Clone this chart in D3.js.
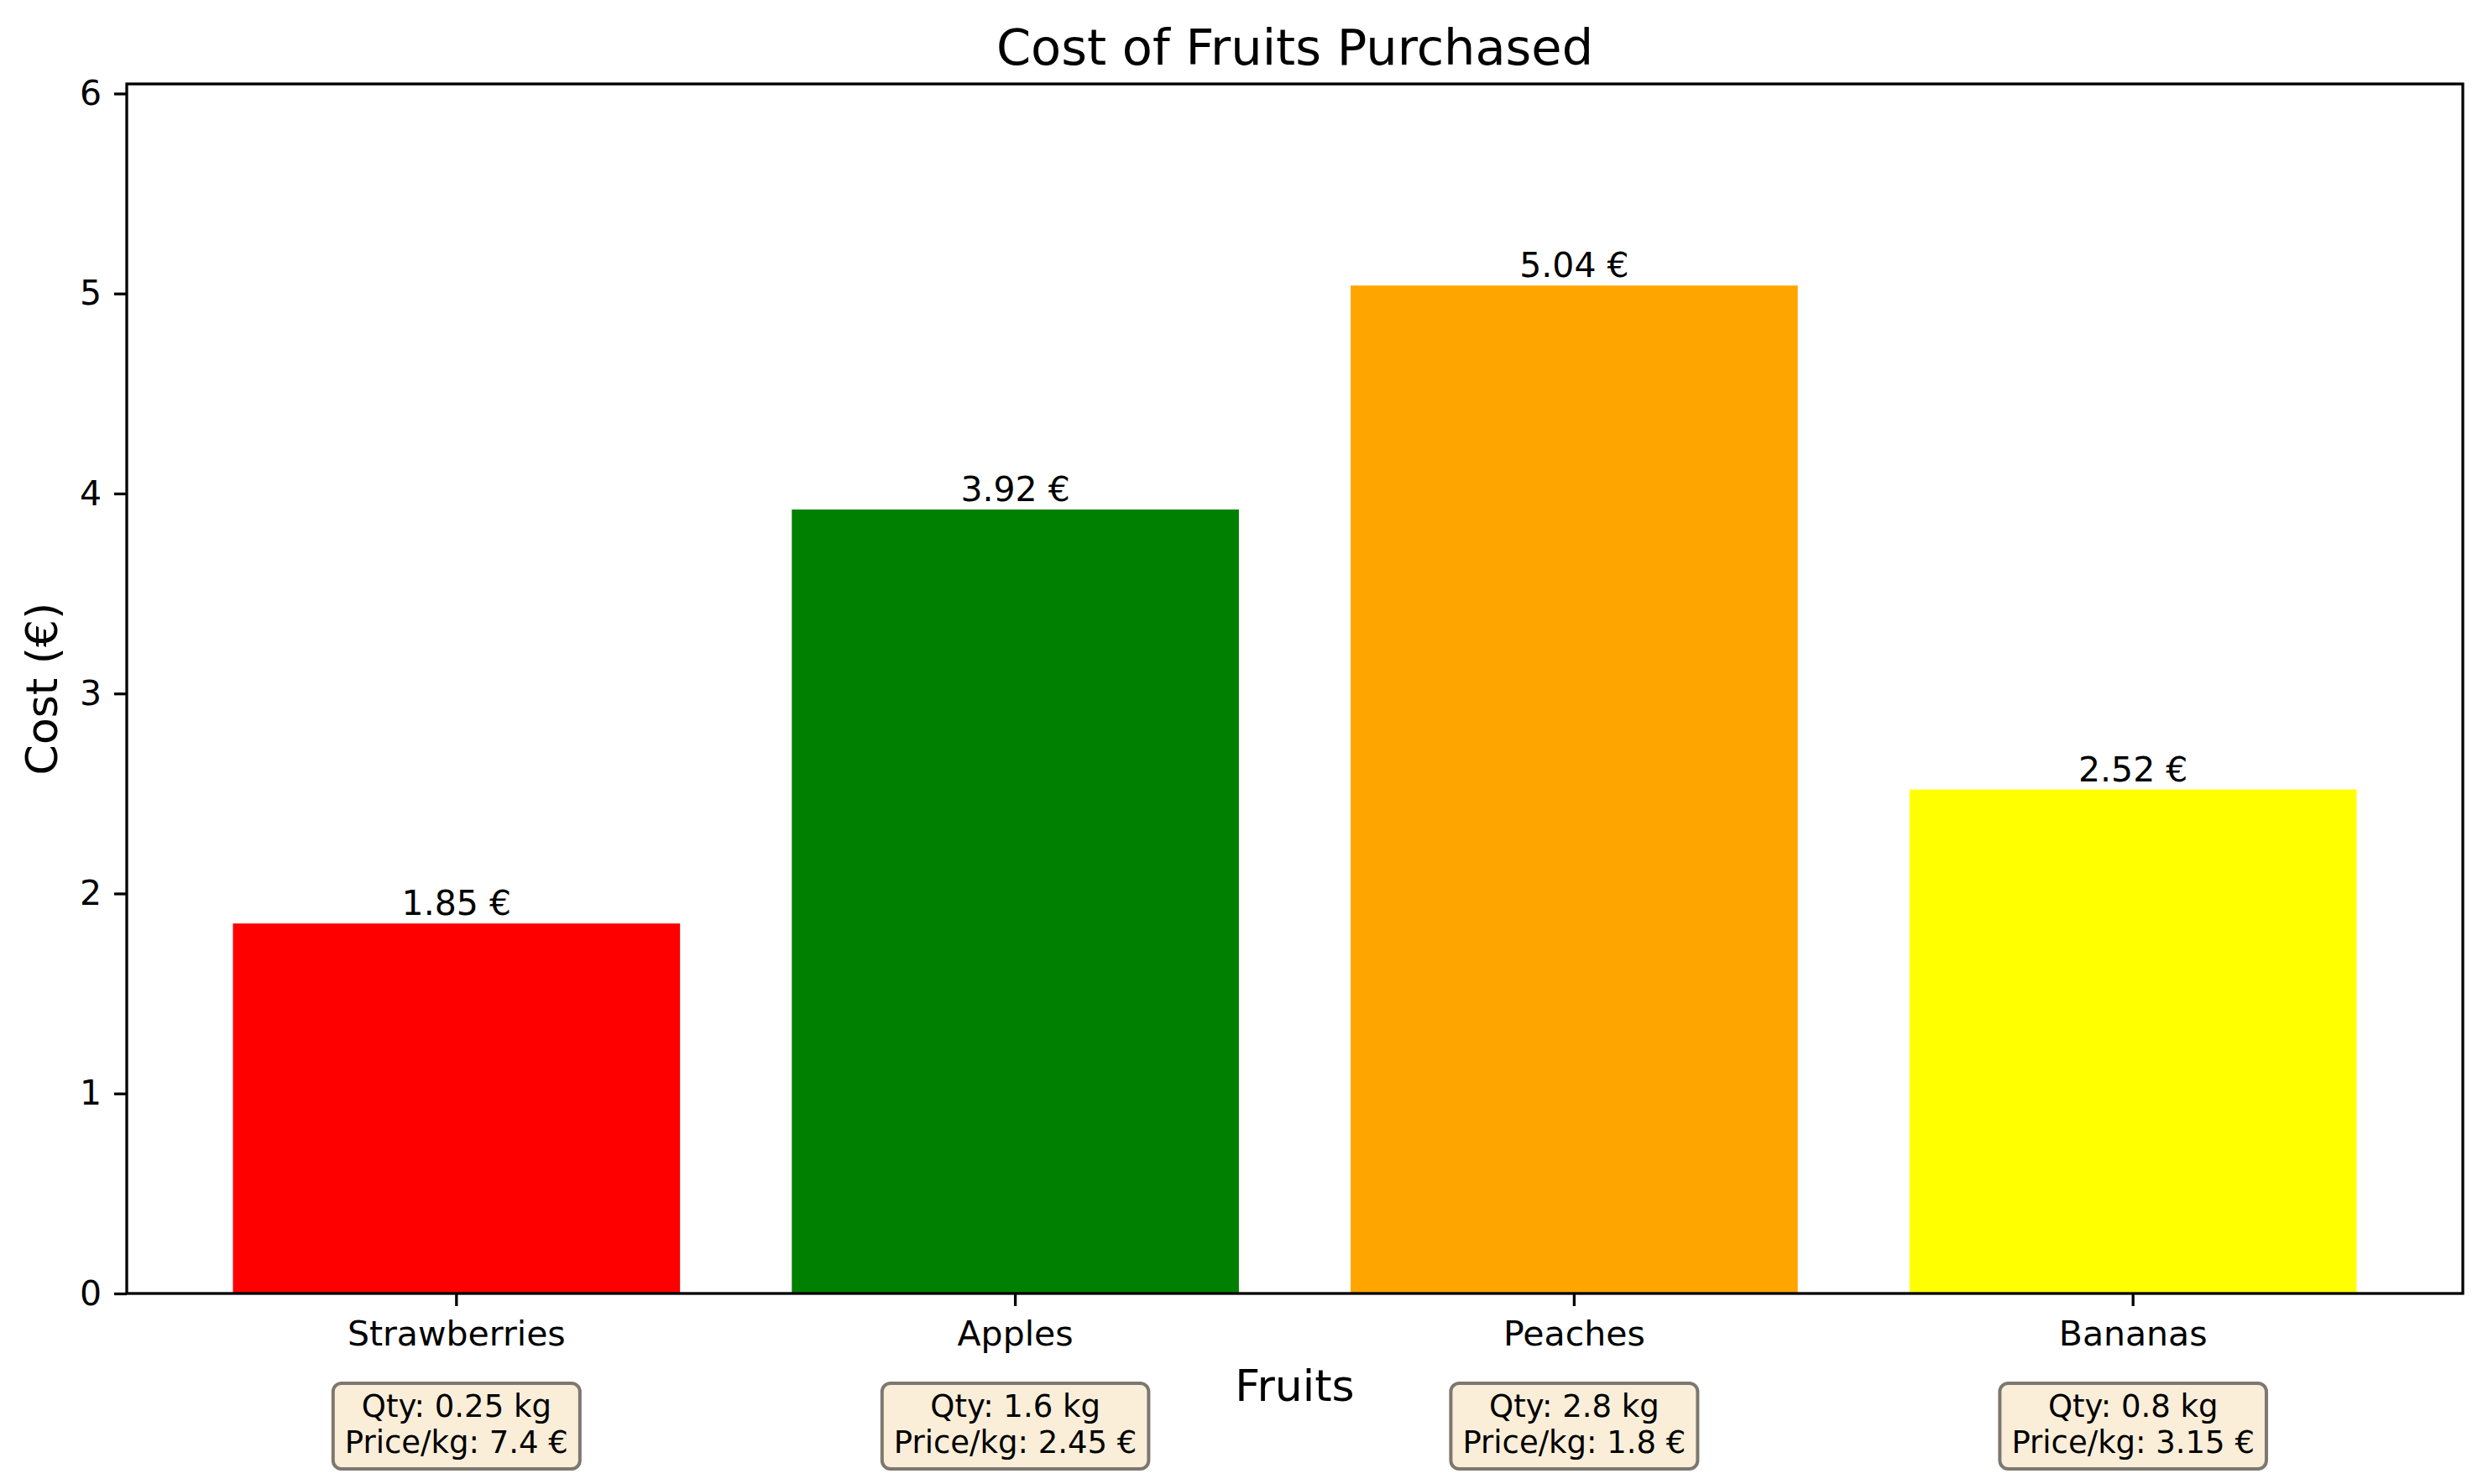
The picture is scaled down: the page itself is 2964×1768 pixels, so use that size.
<!DOCTYPE html>
<html lang="en">
<head>
    <meta charset="UTF-8">
    <title>Cost of Fruits Purchased</title>
    <style>
        body {
            margin: 0;
            padding: 0;
            background: #fff;
        }
        svg {
            font-family: "DejaVu Sans", sans-serif;
        }
        .tick text {
            fill: #000;
        }
    </style>
</head>
<body>
    <div id="chart"></div>

    <script src="https://d3js.org/d3.v7.min.js"></script>
    <script>
        // Data
        const fruits = ["Strawberries", "Apples", "Peaches", "Bananas"];
        const costs = [1.85, 3.92, 5.04, 2.52];
        const quantities = [0.25, 1.6, 2.8, 0.8];
        const pricePerKg = [7.4, 2.45, 1.8, 3.15];
        const barColors = ["red", "green", "orange", "yellow"];
        const yTicks = [0, 1, 2, 3, 4, 5, 6];

        const width = 2964, height = 1768;
        const margin = { top: 100, right: 30, bottom: 227, left: 151 };
        const innerW = width - margin.left - margin.right;
        const innerH = height - margin.top - margin.bottom;

        const svg = d3.select("#chart").append("svg")
            .attr("width", width)
            .attr("height", height);

        const g = svg.append("g")
            .attr("transform", "translate(" + margin.left + "," + margin.top + ")");

        // Scales (matplotlib-like: bar width 0.8, 5% margins, ylim = max * 1.2)
        const x = d3.scaleBand()
            .domain(fruits)
            .range([0, innerW])
            .paddingInner(0.2)
            .paddingOuter(0.19);

        const y = d3.scaleLinear()
            .domain([0, d3.max(costs) * 1.2])
            .range([innerH, 0]);

        const rows = fruits.map((f, i) => ({
            fruit: f, cost: costs[i], qty: quantities[i], price: pricePerKg[i], color: barColors[i]
        }));

        // Bars
        g.selectAll("rect.bar")
            .data(rows)
            .enter().append("rect")
            .attr("class", "bar")
            .attr("x", d => x(d.fruit))
            .attr("y", d => y(d.cost))
            .attr("width", x.bandwidth())
            .attr("height", d => innerH - y(d.cost))
            .attr("fill", d => d.color);

        // Value labels above bars
        g.selectAll("text.val")
            .data(rows)
            .enter().append("text")
            .attr("class", "val")
            .attr("x", d => x(d.fruit) + x.bandwidth() / 2)
            .attr("y", d => y(d.cost) - 10)
            .attr("text-anchor", "middle")
            .attr("font-size", 41)
            .text(d => d.cost.toFixed(2) + " €");

        // Axes
        const yAxis = g.append("g")
            .call(d3.axisLeft(y).tickValues(yTicks).tickFormat(d3.format("d"))
                .tickSize(15).tickPadding(15));
        yAxis.select(".domain").remove();
        yAxis.selectAll(".tick line").attr("stroke", "#000").attr("stroke-width", 3.3);
        yAxis.selectAll(".tick text").attr("font-size", 41).attr("font-family", "DejaVu Sans");

        const xAxis = g.append("g")
            .attr("transform", "translate(0," + innerH + ")")
            .call(d3.axisBottom(x).tickSize(15).tickPadding(18));
        xAxis.select(".domain").remove();
        xAxis.selectAll(".tick line").attr("stroke", "#000").attr("stroke-width", 3.3);
        xAxis.selectAll(".tick text").attr("font-size", 41).attr("font-family", "DejaVu Sans");

        // Frame
        g.append("rect")
            .attr("x", 0).attr("y", 0)
            .attr("width", innerW).attr("height", innerH)
            .attr("fill", "none")
            .attr("stroke", "#000")
            .attr("stroke-width", 3.3);

        // Title and axis labels
        svg.append("text")
            .attr("x", margin.left + innerW / 2)
            .attr("y", 77)
            .attr("text-anchor", "middle")
            .attr("font-size", 59)
            .text("Cost of Fruits Purchased");

        svg.append("text")
            .attr("x", margin.left + innerW / 2)
            .attr("y", 1669)
            .attr("text-anchor", "middle")
            .attr("font-size", 52)
            .text("Fruits");

        svg.append("text")
            .attr("transform", "translate(68," + (margin.top + innerH / 2) + ") rotate(-90)")
            .attr("text-anchor", "middle")
            .attr("font-size", 52)
            .text("Cost (€)");

        // Info boxes under each tick label
        const boxes = svg.selectAll("g.info")
            .data(rows)
            .enter().append("g")
            .attr("class", "info")
            .attr("transform", d => "translate(" + (margin.left + x(d.fruit) + x.bandwidth() / 2) + ",0)");

        boxes.each(function(d) {
            const b = d3.select(this);
            const rect = b.append("rect");
            const t1 = b.append("text")
                .attr("y", 1688).attr("text-anchor", "middle").attr("font-size", 37)
                .text("Qty: " + d.qty + " kg");
            const t2 = b.append("text")
                .attr("y", 1731).attr("text-anchor", "middle").attr("font-size", 37)
                .text("Price/kg: " + d.price + " €");
            const w = Math.max(t1.node().getComputedTextLength(), t2.node().getComputedTextLength()) + 28;
            rect.attr("x", -w / 2).attr("y", 1648)
                .attr("width", w).attr("height", 102)
                .attr("rx", 10).attr("ry", 10)
                .attr("fill", "#faeed9")
                .attr("stroke", "#7d786f")
                .attr("stroke-width", 4);
        });
    </script>
</body>
</html>
